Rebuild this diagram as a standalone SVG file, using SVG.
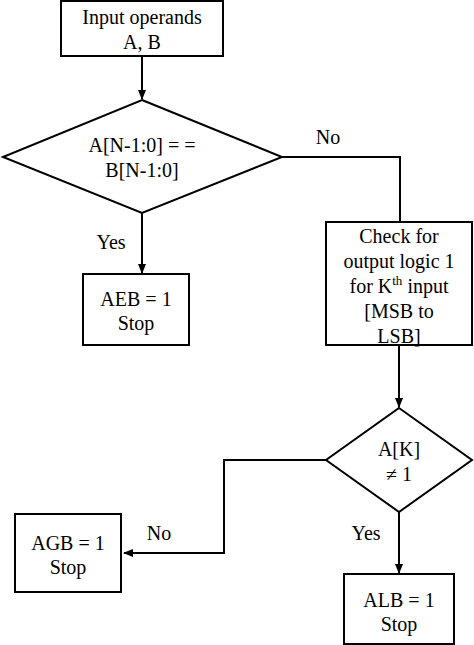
<svg xmlns="http://www.w3.org/2000/svg" width="474" height="645" viewBox="0 0 474 645">
<style>
.s{fill:#fff;stroke:#000;stroke-width:2}
.t{font-family:"Liberation Serif","Times New Roman",serif;font-size:20px;fill:#000;text-anchor:middle}
.c{fill:none;stroke:#000;stroke-width:2}
</style>
<defs>
<marker id="ah" markerWidth="10" markerHeight="10" refX="9" refY="5" orient="auto" markerUnits="userSpaceOnUse">
<path d="M0,1 L10,5 L0,9 Z" fill="#000"/>
</marker>
</defs>
<rect width="474" height="645" fill="#fff"/>
<g id="connectors">
<path class="c" d="M142,56 V99" marker-end="url(#ah)"/>
<path class="c" d="M282,157 H400 V222"/>
<path class="c" d="M142,213 V273" marker-end="url(#ah)"/>
<path class="c" d="M399,345 V407" marker-end="url(#ah)"/>
<path class="c" d="M326,460 H224 V553 H124" marker-end="url(#ah)"/>
<path class="c" d="M399,512 V573" marker-end="url(#ah)"/>
<text class="t" x="328" y="144">No</text>
<text class="t" x="111" y="249">Yes</text>
<text class="t" x="159" y="540">No</text>
<text class="t" x="366" y="540">Yes</text>
</g>
<g id="start">
<rect class="s" x="61" y="1" width="162" height="55"/>
<text class="t" x="142" y="24">Input operands</text>
<text class="t" x="142" y="49">A, B</text>
</g>
<g id="cmp1">
<path class="s" d="M142,100 L282,157 L142,213 L3,157 Z"/>
<text class="t" x="142" y="152">A[N-1:0] = =</text>
<text class="t" x="142" y="177">B[N-1:0]</text>
</g>
<g id="aeb">
<rect class="s" x="83" y="274" width="106" height="71"/>
<text class="t" x="136" y="306">AEB = 1</text>
<text class="t" x="136" y="330">Stop</text>
</g>
<g id="check">
<rect class="s" x="326" y="222" width="146" height="123"/>
<text class="t" x="399" y="243">Check for</text>
<text class="t" x="399" y="268">output logic  1</text>
<text class="t" x="399" y="293">for K<tspan font-size="13" dy="-8">th</tspan><tspan dy="8"> input</tspan></text>
<text class="t" x="399" y="318">[MSB to</text>
<text class="t" x="399" y="343">LSB]</text>
</g>
<g id="cmp2">
<path class="s" d="M399,408 L472,460 L399,512 L326,460 Z"/>
<text class="t" x="399" y="456">A[K]</text>
<text class="t" x="399" y="481">≠ 1</text>
</g>
<g id="agb">
<rect class="s" x="15" y="514" width="106" height="78"/>
<text class="t" x="68" y="550">AGB = 1</text>
<text class="t" x="68" y="574">Stop</text>
</g>
<g id="alb">
<rect class="s" x="344" y="574" width="110" height="70"/>
<text class="t" x="399" y="607">ALB = 1</text>
<text class="t" x="399" y="631">Stop</text>
</g>
</svg>
